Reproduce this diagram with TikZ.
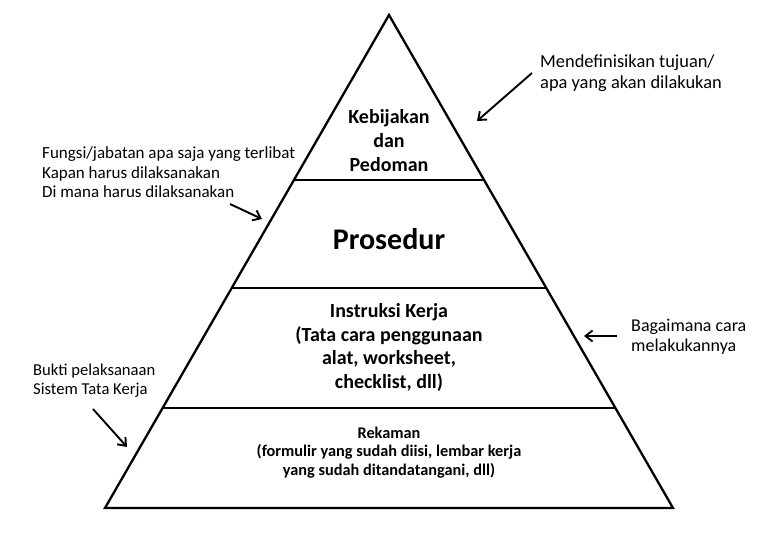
\documentclass[tikz,border=0pt]{standalone}
\usepackage{fontspec}
\setmainfont{Carlito}
\usetikzlibrary{arrows.meta}
\tikzset{
  edge/.style={line width=2.3pt, line join=miter},
  sep/.style={line width=2.3pt},
  ann/.style={anchor=west, align=left, inner sep=0pt, font=\fontsize{17}{19.5}\selectfont},
  lvl/.style={align=center, inner sep=0pt, font=\bfseries\fontsize{20}{23.7}\selectfont},
  pointer/.style={line width=1.9pt, -{Straight Barb[length=7pt,width=11pt,line width=1.9pt]}}
}
\begin{document}
\begin{tikzpicture}[x=1pt,y=-1pt]
\useasboundingbox (0,0) rectangle (768,543);
% pyramid corners
\coordinate (apex) at (389,15);
\coordinate (bl) at (105,508);
\coordinate (br) at (673,508);
\coordinate (s1l) at (293.9,180); \coordinate (s1r) at (484.1,180);
\coordinate (s2l) at (231.7,288); \coordinate (s2r) at (546.3,288);
\coordinate (s3l) at (162.6,408); \coordinate (s3r) at (615.4,408);
\draw[edge] (apex) -- (br) -- (bl) -- cycle;
\draw[sep] (s1l) -- (s1r);
\draw[sep] (s2l) -- (s2r);
\draw[sep] (s3l) -- (s3r);
% level texts
\node[lvl] (kebijakan) at (389,140.5) {Kebijakan\\dan\\Pedoman};
\node[lvl, font=\bfseries\fontsize{30}{36}\selectfont] (prosedur) at (389,239) {Prosedur};
\node[lvl] (instruksi) at (389,347.5) {Instruksi Kerja\\(Tata cara penggunaan\\alat, worksheet,\\checklist, dll)};
\node[lvl, font=\bfseries\fontsize{16.3}{18.2}\selectfont] (rekaman) at (389,452.5) {Rekaman\\(formulir yang sudah diisi, lembar kerja\\yang sudah ditandatangani, dll)};
% annotations
\node[ann, font=\fontsize{18.4}{21}\selectfont] (tujuan) at (540,73.5) {Mendefinisikan tujuan/\\apa yang akan dilakukan};
\node[ann] (fungsi) at (42,172.5) {Fungsi/jabatan apa saja yang terlibat\\Kapan harus dilaksanakan\\Di mana harus dilaksanakan};
\node[ann, font=\fontsize{18}{20}\selectfont] (bagaimana) at (631,337) {Bagaimana cara\\melakukannya};
\node[ann, font=\fontsize{16.6}{19.5}\selectfont] (bukti) at (33,380.5) {Bukti pelaksanaan\\Sistem Tata Kerja};
% pointers
\coordinate (t0) at (532,73); \coordinate (t1) at (477,121);
\coordinate (f0) at (230,204); \coordinate (f1) at (262,219);
\coordinate (g0) at (617,336); \coordinate (g1) at (584,336);
\coordinate (b0) at (93,409); \coordinate (b1) at (127,447);
\draw[pointer] (t0) -- (t1);
\draw[pointer] (f0) -- (f1);
\draw[pointer] (g0) -- (g1);
\draw[pointer] (b0) -- (b1);
\end{tikzpicture}
\end{document}
